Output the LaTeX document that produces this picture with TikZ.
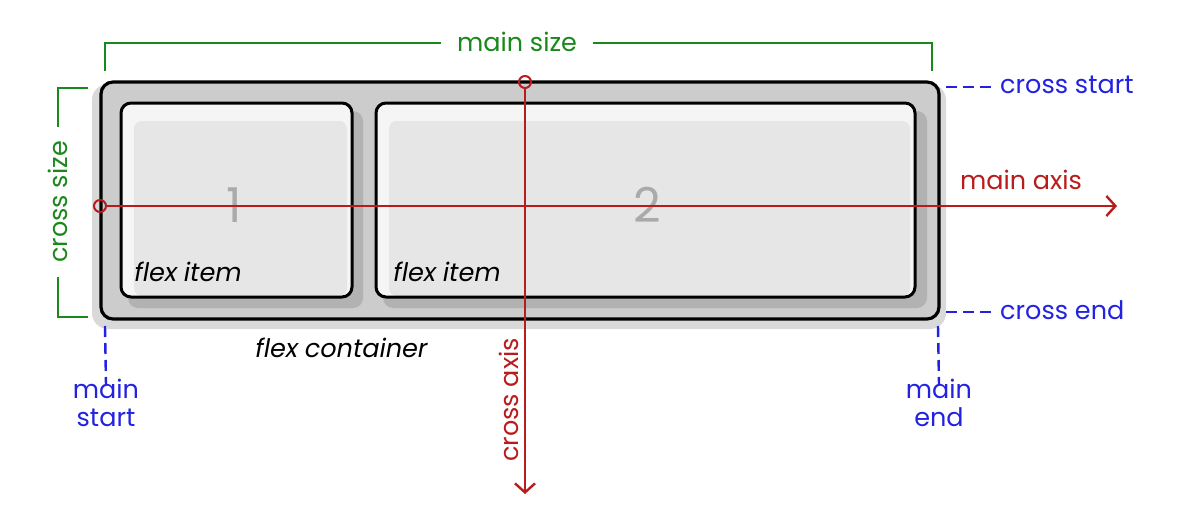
\documentclass[tikz,border=0pt]{standalone}
\usepackage{fontspec}
\setmainfont{Poppins}[AutoFakeSlant=0.18]
\usetikzlibrary{arrows.meta}
\definecolor{cgreen}{RGB}{26,136,26}
\definecolor{cred}{RGB}{184,28,28}
\definecolor{cblue}{RGB}{34,34,224}
\definecolor{cshadow}{RGB}{217,217,217}
\definecolor{ccont}{RGB}{204,204,204}
\definecolor{citemshadow}{RGB}{178,178,178}
\definecolor{citem}{RGB}{230,230,230}
\definecolor{chigh}{RGB}{245,245,245}
\definecolor{cnum}{RGB}{170,170,170}
\tikzset{
  greenline/.style={cgreen, line width=2.4pt},
  greenlabel/.style={text=cgreen, font=\fontsize{25.5}{27}\selectfont, inner sep=0pt},
  redline/.style={cred, line width=2.4pt},
  redarrow/.style={redline, -{Straight Barb[length=9pt,width=20pt,line width=2.4pt]}},
  redlabel/.style={text=cred, font=\fontsize{25.5}{27}\selectfont, inner sep=0pt},
  redring/.style={circle, draw=cred, line width=2pt, minimum size=12pt, inner sep=0pt},
  blueline/.style={cblue, line width=2.4pt, dash pattern=on 11pt off 6pt},
  bluelabel/.style={text=cblue, font=\fontsize{25.5}{27.5}\selectfont, inner sep=0pt, align=center},
  itemlabel/.style={font=\itshape\fontsize{25.5}{27}\selectfont, inner sep=0pt},
  numlabel/.style={text=cnum, font=\fontsize{48}{50}\selectfont, inner sep=0pt},
  outline/.style={draw=black, line width=3.2pt, rounded corners=12pt},
  itemoutline/.style={draw=black, line width=3pt, rounded corners=10pt},
}
\begin{document}
\begin{tikzpicture}[x=1pt,y=-1pt]
\useasboundingbox (0,0) rectangle (1200,514);
% container sketch shadow
\fill[cshadow, rounded corners=16pt] (92,84) rectangle (946,329);
% container
\fill[ccont, rounded corners=12pt] (101,82) rectangle (939,319);
% item shadows
\fill[citemshadow, rounded corners=10pt] (128,111) rectangle (363,308);
\fill[citemshadow, rounded corners=10pt] (383,111) rectangle (927,308);
% items
\fill[chigh, rounded corners=10pt] (121,103) rectangle (352,297);
\fill[citem, rounded corners=8pt] (134,121) rectangle (347,296);
\fill[chigh, rounded corners=10pt] (376,103) rectangle (915,297);
\fill[citem, rounded corners=8pt] (389,121) rectangle (910,296);
\draw[itemoutline] (121,103) rectangle (352,297);
\draw[itemoutline] (376,103) rectangle (915,297);
\draw[outline] (101,82) rectangle (939,319);
% numbers and labels
\node[numlabel] (n1) at (234,205) {1};
\node[numlabel] (n2) at (647,205) {2};
\node[itemlabel, anchor=base west] (fi1) at (133,281) {flex item};
\node[itemlabel, anchor=base west] (fi2) at (392,281) {flex item};
\node[itemlabel, anchor=base west] (fc) at (254,357) {flex container};
% main axis
\node[redring] (ms) at (100,206) {};
\coordinate (me) at (1117,206);
\draw[redarrow] (ms) -- (me);
\node[redlabel, anchor=base] (mal) at (1021,189) {main axis};
% cross axis
\node[redring] (cs) at (525,82) {};
\coordinate (ce) at (525,494);
\draw[redarrow] (cs) -- (ce);
\node[redlabel, rotate=90, anchor=base] (cal) at (518,400) {cross axis};
% main size bracket
\node[greenlabel] (msz) at (517,42) {main size};
\coordinate (ms1) at (105,71);
\coordinate (ms2) at (932,71);
\draw[greenline] (msz.west) ++(-16,1) -| (ms1);
\draw[greenline] (msz.east) ++(16,1) -| (ms2);
% cross size bracket
\node[greenlabel, rotate=90] (csz) at (58,202) {cross size};
\coordinate (cs1) at (88,88);
\coordinate (cs2) at (88,317);
\draw[greenline] (csz.east) ++(0,-14) |- (cs1);
\draw[greenline] (csz.west) ++(0,14) |- (cs2);
% blue markers
\node[bluelabel, anchor=west] (cst) at (1000,85) {cross start};
\draw[blueline] (946,87) -- ([xshift=-8pt,yshift=-2pt]cst.west);
\node[bluelabel, anchor=west] (cen) at (1000,310) {cross end};
\draw[blueline] (946,312) -- ([xshift=-8pt,yshift=-2pt]cen.west);
\node[bluelabel, anchor=north] (mst) at (106,379) {main\\start};
\draw[blueline] (105,326) -- ([yshift=-6pt]mst.north);
\node[bluelabel, anchor=north] (men) at (939,379) {main\\end};
\draw[blueline] (938,326) -- ([yshift=-6pt]men.north);
\end{tikzpicture}
\end{document}
